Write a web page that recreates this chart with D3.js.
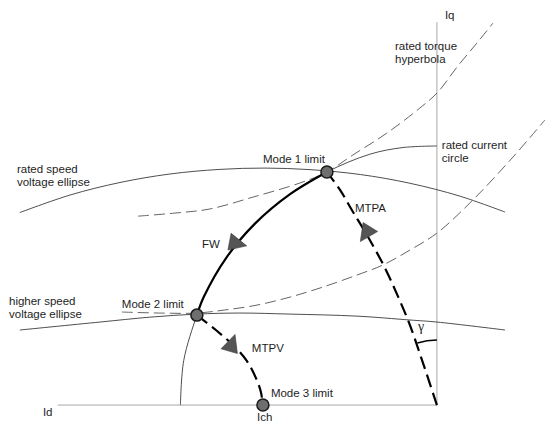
<!DOCTYPE html>
<html><head><meta charset="utf-8">
<script src="https://cdn.jsdelivr.net/npm/d3@7"></script>
<style>html,body{margin:0;padding:0;background:#fff;} svg{display:block;}</style>
</head><body><svg id="chart" width="550" height="430"></svg>
<script>
// All values in % of rated current (Id, Iq)
const currentCircle = [[0,100.8],[-13.2,100.2],[-26.1,97.6],[-42.8,90.7],[-57.4,81.9],[-70.7,70.7],[-81.9,57.4],[-90.6,42.3],[-93.4,35.0],[-98.5,17.4],[-99.8,0]];
const ratedSpeedEllipse = [[-162.3,74.9],[-142.8,81.7],[-123.3,86.6],[-103.9,89.9],[-84.4,91.7],[-66.9,92.2],[-49.4,91.6],[-29.8,89.7],[-10.5,86.3],[8.9,81.3],[26.5,75.1]];
const higherSpeedEllipse = [[-162.3,29.2],[-131.1,32.3],[-111.7,34.2],[-93.4,35.4],[-76.7,35.8],[-57.2,35.4],[-31.1,34.6],[-10.5,33.1],[0,32.3],[26.5,29.2]];
const ratedTorqueHyperbola = [[-116.3,73.5],[-101.9,74.7],[-88.3,76.3],[-71.6,80.9],[-53.3,86.4],[-42.8,90.7],[-32.7,97.3],[-19.5,105.8],[-6.6,115.6],[0.4,121.8],[7.8,131.5],[15.6,140.9],[21.8,148.6]];
const lowerTorqueHyperbola = [[-122.6,36.2],[-107.8,35.8],[-93.4,35.8],[-82.5,37.0],[-70.0,38.9],[-57.2,42.0],[-44.4,45.9],[-31.1,50.6],[-21.0,54.5],[-10.5,60.3],[0,66.9],[14.0,79.8],[29.6,96.5],[42.0,110.9]];
const mtpa = [[0,0],[-5.8,17.5],[-10.5,31.1],[-15.2,42.4],[-20.6,54.1],[-27.2,66.1],[-33.1,75.9],[-37.7,83.7],[-42.8,90.7]];
const fw = [[-42.8,90.7],[-57.4,81.9],[-70.7,70.7],[-81.9,57.4],[-90.6,42.3],[-93.4,35.0]];
const mtpv = [[-93.4,35.0],[-86.0,29.2],[-79.0,23.0],[-73.9,17.1],[-70.4,10.5],[-68.5,5.1],[-67.7,0]];
const modePoints = [[-42.8,90.7],[-93.4,35.0],[-67.7,0]];
const arrowTargets = {fw:[-77.3,62.0], mtpa:[-29.1,66.3], mtpv:[-79.4,23.7]};
const idAxisRange = [-147.5, 0];
const iqAxisRange = [0, 149];
const gammaArc = {r:25.3, deg:17.5};
const labels = [
  ["Iq",3.1,150.2],["rated torque",-16.3,138.1],["hyperbola",-16.3,133.0],
  ["rated current",1.9,99.6],["circle",1.9,94.6],["Mode 1 limit",-67.7,94.2],
  ["MTPA",-31.9,75.1],["rated speed",-163.4,90.3],["voltage ellipse",-163.4,85.2],
  ["FW",-91.4,61.1],["higher speed",-166.5,38.9],["voltage ellipse",-166.5,33.9],
  ["Mode 2 limit",-122.6,37.7],["MTPV",-72.0,20.6],["Mode 3 limit",-64.6,3.1],
  ["Ich",-70.0,-6.2],["Id",-153.3,-4.3]
];
const gammaLabel = ["γ",-7.4,29.0];

const svg = d3.select("#chart");
const x = d3.scaleLinear().domain([-170,44]).range([0,550]);
const y = d3.scaleLinear().domain([-9.7,157.6]).range([430,0]);
const line = d3.line().x(d=>x(d[0])).y(d=>y(d[1])).curve(d3.curveCatmullRom.alpha(0.5));

// axes
svg.append("line").attr("x1",x(idAxisRange[0])).attr("x2",x(idAxisRange[1])).attr("y1",y(0)).attr("y2",y(0))
  .attr("stroke","#a8a8a8").attr("stroke-width",1);
svg.append("line").attr("x1",x(0)).attr("x2",x(0)).attr("y1",y(iqAxisRange[0])).attr("y2",y(iqAxisRange[1]))
  .attr("stroke","#a8a8a8").attr("stroke-width",1);

const thin = (data)=>svg.append("path").attr("d",line(data)).attr("fill","none").attr("stroke","#3a3a3a").attr("stroke-width",0.9);
const dashedThin = (data)=>svg.append("path").attr("d",line(data)).attr("fill","none").attr("stroke","#666").attr("stroke-width",1).attr("stroke-dasharray","11,5");
thin(currentCircle);
thin(ratedSpeedEllipse);
thin(higherSpeedEllipse);
dashedThin(ratedTorqueHyperbola);
dashedThin(lowerTorqueHyperbola);

const thick = (data,dash)=>{
  const p = svg.append("path").attr("d",line(data)).attr("fill","none").attr("stroke","#000").attr("stroke-width",2.2);
  if (dash) p.attr("stroke-dasharray",dash);
  return p.node();
};
const mtpaNode = thick(mtpa,"13,6");
const fwNode = thick(fw,null);
const mtpvNode = thick(mtpv,"13,6");

// gamma arc
svg.append("path")
  .attr("transform",`translate(${x(0)},${y(0)})`)
  .attr("d", d3.arc()({innerRadius:x(gammaArc.r)-x(0), outerRadius:x(gammaArc.r)-x(0), startAngle:-gammaArc.deg*Math.PI/180, endAngle:0}))
  .attr("fill","none").attr("stroke","#000").attr("stroke-width",1.5);

function arrow(node, target){
  const tx=x(target[0]), ty=y(target[1]);
  const L=node.getTotalLength();
  let best=0, bd=Infinity;
  for(let s=0;s<=L;s+=0.5){const p=node.getPointAtLength(s);const d=(p.x-tx)**2+(p.y-ty)**2;if(d<bd){bd=d;best=s;}}
  const P=node.getPointAtLength(best);
  const a=node.getPointAtLength(Math.max(0,best-2)), b=node.getPointAtLength(Math.min(L,best+2));
  let dx=b.x-a.x, dy=b.y-a.y; const n=Math.hypot(dx,dy); dx/=n; dy/=n;
  const nx=dy, ny=-dx;
  const shape=[[10,-3],[-5,-11],[-5,9]];
  const pts=shape.map(([t,m])=>[P.x+t*dx+m*nx, P.y+t*dy+m*ny]);
  svg.append("polygon").attr("points",pts.map(p=>p.join(",")).join(" "))
    .attr("fill","#555").attr("stroke","#3a3a3a").attr("stroke-width",0.6);
}
arrow(fwNode, arrowTargets.fw);
arrow(mtpaNode, arrowTargets.mtpa);
arrow(mtpvNode, arrowTargets.mtpv);

svg.selectAll("circle.mode").data(modePoints).enter().append("circle")
  .attr("class","mode").attr("cx",d=>x(d[0])).attr("cy",d=>y(d[1])).attr("r",6)
  .attr("fill","#6e6e6e").attr("stroke","#1a1a1a").attr("stroke-width",1.5);

svg.selectAll("text.lbl").data(labels).enter().append("text")
  .attr("class","lbl").attr("x",d=>x(d[1])).attr("y",d=>y(d[2])).text(d=>d[0])
  .attr("font-family","'Liberation Sans', Arial, sans-serif").attr("font-size",11.5).attr("fill","#1e1e1e");
svg.append("text").attr("x",x(gammaLabel[1])).attr("y",y(gammaLabel[2])).text(gammaLabel[0])
  .attr("font-family","'Liberation Serif', 'DejaVu Serif', serif").attr("font-size",14).attr("fill","#1e1e1e");
</script></body></html>
